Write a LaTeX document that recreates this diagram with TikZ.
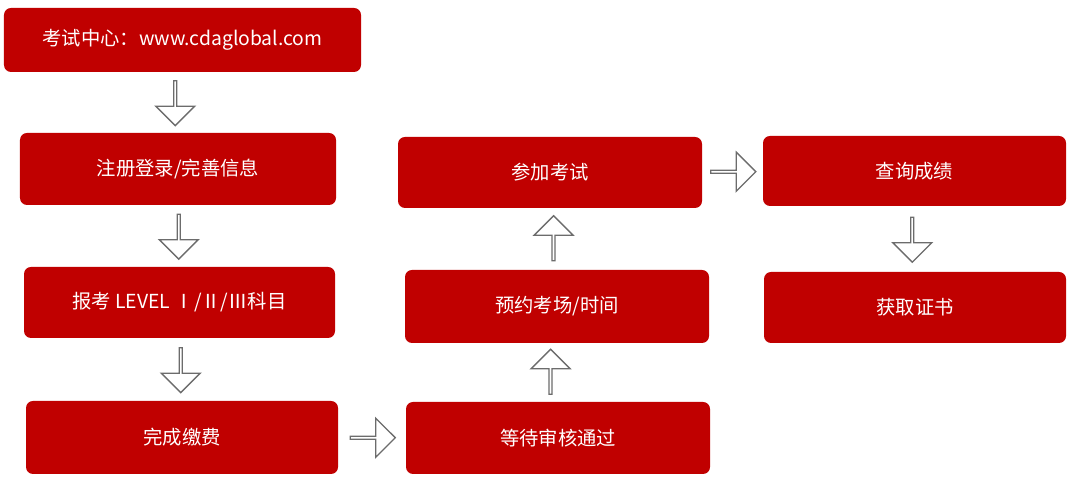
\documentclass[tikz,border=0pt]{standalone}
\usepackage{fontspec}
\setmainfont{Noto Sans CJK SC}
\usetikzlibrary{shapes.arrows,calc}
\definecolor{cdared}{RGB}{192,0,0}
\tikzset{
  stage/.style={fill=cdared,text=white,rounded corners=0.14cm,inner sep=0pt,
    font=\fontsize{11pt}{13pt}\selectfont},
  blk/.style={single arrow,draw=gray!85!black,fill=white,line width=0.8pt,
    minimum height=0.9cm,minimum width=0.78cm,single arrow head extend=0.17cm,
    inner sep=0pt}
}
\begin{document}
\begin{tikzpicture}
  \useasboundingbox (0,0) rectangle (21.6,9.68);
  % left column
  \node [stage,minimum width=7.14cm,minimum height=1.28cm] (center) at (3.65,8.88) {考试中心：www.cdaglobal.com};
  \node [stage,minimum width=6.32cm,minimum height=1.44cm] (reg) at (3.56,6.3) {注册登录/完善信息};
  \node [stage,minimum width=6.22cm,minimum height=1.42cm] (level) at (3.59,3.63) {报考 LEVEL Ⅰ/Ⅱ/Ⅲ科目};
  \node [stage,minimum width=6.24cm,minimum height=1.46cm] (pay) at (3.64,0.93) {完成缴费};
  % middle column
  \node [stage,minimum width=6.08cm,minimum height=1.44cm] (audit) at (11.16,0.92) {等待审核通过};
  \node [stage,minimum width=6.08cm,minimum height=1.46cm] (book) at (11.14,3.55) {预约考场/时间};
  \node [stage,minimum width=6.08cm,minimum height=1.42cm] (exam) at (11.0,6.23) {参加考试};
  % right column
  \node [stage,minimum width=6.06cm,minimum height=1.4cm] (score) at (18.29,6.26) {查询成绩};
  \node [stage,minimum width=6.04cm,minimum height=1.42cm] (cert) at (18.3,3.53) {获取证书};
  % arrows
  \node [blk,rotate=-90] (a1) at ($(center.south)!0.5!(reg.north)+(-0.1,0)$) {};
  \node [blk,rotate=-90] (a2) at ($(reg.south)!0.5!(level.north)$) {};
  \node [blk,rotate=-90] (a3) at ($(level.south)!0.5!(pay.north)$) {};
  \node [blk] (a4) at ($(pay.east)!0.5!(audit.west)$) {};
  \node [blk,rotate=90] (a5) at ($(audit.north)!0.5!(book.south)+(-0.14,0)$) {};
  \node [blk,rotate=90] (a6) at ($(book.north)!0.5!(exam.south)$) {};
  \node [blk] (a7) at ($(exam.east)!0.5!(score.west)$) {};
  \node [blk,rotate=-90] (a8) at ($(score.south)!0.5!(cert.north)+(-0.05,0)$) {};
\end{tikzpicture}
\end{document}
